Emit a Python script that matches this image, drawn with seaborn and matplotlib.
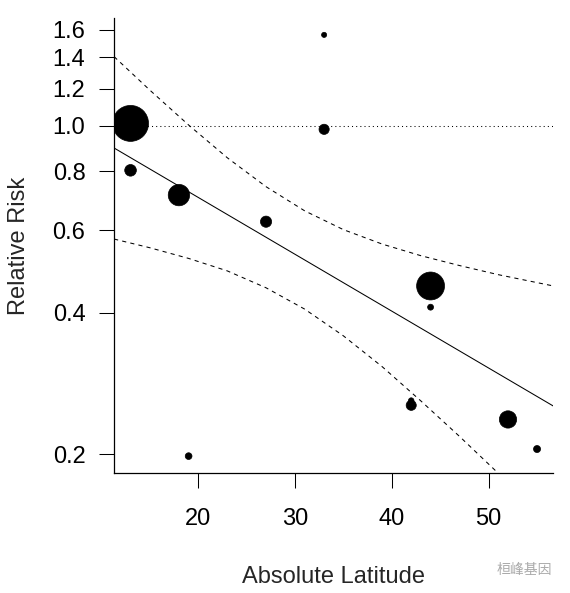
import numpy as np
import pandas as pd
import seaborn as sns
import matplotlib.pyplot as plt

# studies: absolute latitude, relative risk, study weight (1/se)
lat = [44, 55, 42, 52, 13, 44, 19, 13, 27, 42, 18, 33, 33]
rr = [0.411, 0.205, 0.260, 0.237, 0.804, 0.456, 0.198, 1.012, 0.625, 0.254, 0.712, 1.562, 0.983]
weight = [1.75, 2.27, 1.55, 7.07, 4.42, 12.04, 2.12, 15.81, 4.21, 3.70, 8.98, 1.37, 3.74]

# fitted meta-regression line and 95% CI
fit_lat = [11.3, 56.7]
fit_rr = [0.897, 0.253]
band_lat = [11.3, 15, 19, 23, 27, 31, 35, 39, 43, 47, 51, 56.7]
band_upper = [1.404, 1.191, 1.004, 0.855, 0.742, 0.659, 0.601, 0.560, 0.529, 0.504, 0.482, 0.456]
band_lower = [0.574, 0.550, 0.522, 0.491, 0.452, 0.407, 0.357, 0.307, 0.2595, 0.218, 0.182, 0.140]

yticks = [0.2, 0.4, 0.6, 0.8, 1.0, 1.2, 1.4, 1.6]
xticks = [20, 30, 40, 50]

df = pd.DataFrame({'lat': lat, 'rr': rr, 'w': weight})
w = df['w']
df['cex'] = 0.5 + 3.0 * (w - w.min()) / (w.max() - w.min())

sns.set_style('ticks')
plt.rcParams['font.family'] = ['Liberation Sans', 'DejaVu Sans']

fig = plt.figure(figsize=(5.7, 5.93), dpi=100)
ax = fig.add_axes([0.2005, 0.2024, 0.9707 - 0.2005, 0.9696 - 0.2024])

sizes = {c: (7.4 * c) ** 2 for c in df['cex']}
sns.scatterplot(data=df, x='lat', y='rr', size='cex', sizes=sizes, color='black',
                edgecolor='black', linewidth=0.5, legend=False, ax=ax, zorder=3)

sns.lineplot(x=fit_lat, y=fit_rr, color='black', lw=0.75, ax=ax)
ax.plot(band_lat, band_upper, color='black', lw=0.75, dashes=(4, 4))
ax.plot(band_lat, band_lower, color='black', lw=0.75, dashes=(4, 4))
ax.axhline(1.0, color='black', lw=0.75, dashes=(1, 3))

ax.set_yscale('log')
# R-style 4% padding around data range
xr = max(lat) - min(lat)
ax.set_xlim(min(lat) - 0.04 * xr, max(lat) + 0.04 * xr)
ly = np.log([min(rr), max(rr)])
yr = ly[1] - ly[0]
ax.set_ylim(np.exp(ly[0] - 0.04 * yr), np.exp(ly[1] + 0.04 * yr))

ax.set_yticks(yticks)
ax.set_yticklabels([f'{t:.1f}' for t in yticks])
ax.yaxis.set_minor_locator(plt.NullLocator())
ax.set_xticks(xticks)
ax.tick_params(axis='both', length=10.8, width=0.75, labelsize=17, colors='black')
ax.tick_params(axis='y', pad=10)
ax.tick_params(axis='x', pad=14.5)

for s in ['top', 'right']:
    ax.spines[s].set_visible(False)
for s in ['left', 'bottom']:
    ax.spines[s].set_linewidth(0.9)
    ax.spines[s].set_color('black')

ax.set_xlabel('Absolute Latitude', fontsize=17, labelpad=26)
ax.set_ylabel('Relative Risk', fontsize=17, labelpad=16)

fig.text(0.92, 0.039, '桓峰基因', ha='center', va='center', fontsize=10, color='#aaaaaa',
         family=['Noto Sans CJK SC', 'DejaVu Sans'])

fig.savefig('out.png', dpi=100)
